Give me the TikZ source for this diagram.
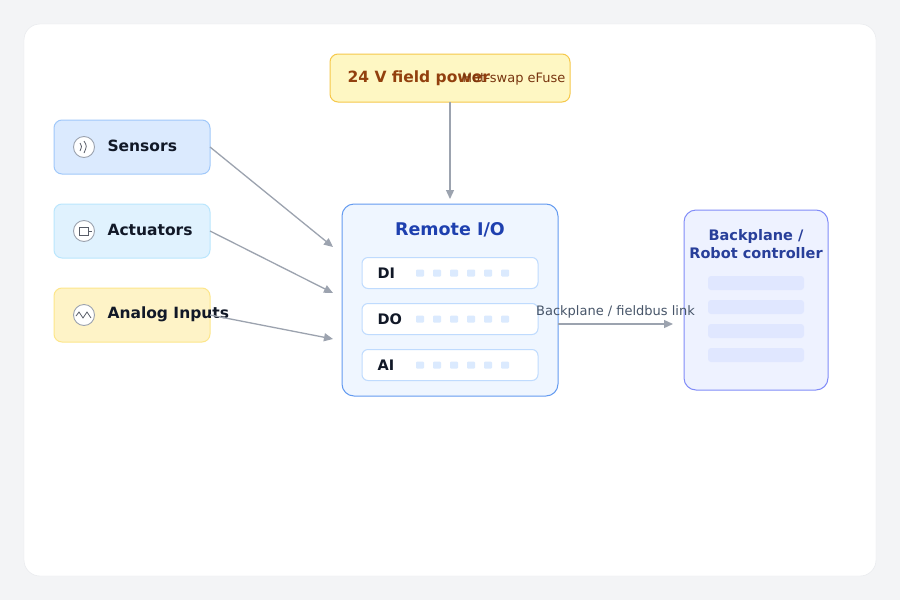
\documentclass[tikz,border=0pt]{standalone}
\usepackage{fontspec}
\setmainfont{DejaVu Sans}
\usepackage{tikz}
\usetikzlibrary{arrows.meta}
\definecolor{pagebg}{HTML}{F3F4F6}
\definecolor{cardline}{HTML}{E5E7EB}
\definecolor{wire}{HTML}{9CA3AF}
\definecolor{ink}{HTML}{111827}
\definecolor{pwrfill}{HTML}{FEF7C3}
\definecolor{pwrline}{HTML}{F6C84A}
\definecolor{pwrtext}{HTML}{92400E}
\definecolor{fusetext}{HTML}{78350F}
\definecolor{sensfill}{HTML}{DBEAFE}
\definecolor{sensline}{HTML}{A0C8FA}
\definecolor{actfill}{HTML}{E0F2FE}
\definecolor{actline}{HTML}{BAE6FD}
\definecolor{anafill}{HTML}{FEF3C7}
\definecolor{analine}{HTML}{FDE68A}
\definecolor{riofill}{HTML}{EFF6FF}
\definecolor{rioline}{HTML}{649BF0}
\definecolor{riotext}{HTML}{1E40AF}
\definecolor{rowline}{HTML}{BFDBFE}
\definecolor{ledfill}{HTML}{DBEAFE}
\definecolor{ctrlfill}{HTML}{EEF2FF}
\definecolor{ctrlline}{HTML}{818CF8}
\definecolor{ctrltext}{HTML}{283F9A}
\definecolor{ctrlbar}{HTML}{E0E7FF}
\definecolor{linktext}{HTML}{475569}
\tikzset{
  box/.style={rounded corners=8pt, line width=1pt},
  wirearrow/.style={draw=wire, line width=1.3pt, -{Triangle[length=9pt,width=8pt]}},
  srclabel/.style={anchor=west, font=\bfseries\fontsize{15.5}{18}\selectfont, text=ink},
  icon/.style={circle, draw=wire, fill=white, line width=0.9pt, minimum size=21pt, inner sep=0pt},
  row/.style={box, rounded corners=6pt, fill=white, draw=rowline},
  led/.style={fill=ledfill, rounded corners=1pt}
}
\begin{document}
\begin{tikzpicture}[x=1pt,y=-1pt]
\fill[pagebg] (0,0) rectangle (900,600);
\draw[fill=white, draw=cardline, rounded corners=16pt] (24,24) rectangle (876,576);

% power supply
\draw[box, fill=pwrfill, draw=pwrline] (330,54) rectangle (570,102);
\node[anchor=west, font=\bfseries\fontsize{15.5}{18}\selectfont, text=pwrtext] (power) at (344,78) {24 V field power};
\node[anchor=east, font=\fontsize{13}{15}\selectfont, text=fusetext] (efuse) at (569,79) {Hot-swap eFuse};
\coordinate (powerout) at (450,102);
\coordinate (rioin) at (450,199);

% field devices
\draw[box, fill=sensfill, draw=sensline] (54,120) rectangle (210,174);
\draw[box, fill=actfill, draw=actline] (54,204) rectangle (210,258);
\draw[box, fill=anafill, draw=analine] (54,288) rectangle (210,342);
\node[icon] (sensicon) at (84,147) {};
\node[icon] (acticon) at (84,231) {};
\node[icon] (anaicon) at (84,315) {};
\draw[ink!70, line width=0.8pt] (80,143) .. controls (82,146) .. (80,151);
\draw[ink!70, line width=0.8pt] (84,141) .. controls (87,146) .. (84,153);
\draw[ink!70, line width=0.9pt] (79,227) rectangle (88,235) (88,231) -- (92,231);
\draw[ink!70, line width=0.8pt] (76,316) -- (79,312) -- (83,318) -- (87,312) -- (91,318);
\node[srclabel] (sensors) at (104,146) {Sensors};
\node[srclabel] (actuators) at (104,230) {Actuators};
\node[srclabel] (analog) at (104,314) {Analog Inputs};
\coordinate (sensout) at (210,147);
\coordinate (actout) at (210,231);
\coordinate (anaout) at (210,315);
\coordinate (sensin) at (333,247);
\coordinate (actin) at (333,293);
\coordinate (anain) at (333,339);

% remote I/O
\draw[box, rounded corners=12pt, fill=riofill, draw=rioline] (342,204) rectangle (558,396);
\node[font=\bfseries\fontsize{17.5}{20}\selectfont, text=riotext] (rio) at (450,230) {Remote I/O};
\foreach \name/\y in {DI/273, DO/319, AI/365} {
  \draw[row] (362,\y-15.5) rectangle (538,\y+15.5);
  \node[anchor=west, font=\bfseries\fontsize{14.5}{16}\selectfont, text=ink] at (374,\y) {\name};
  \foreach \x in {420,437,454,471,488,505}
    \fill[led] (\x-4,\y-3.5) rectangle (\x+4,\y+3.5);
}
\coordinate (rioout) at (558,324);
\coordinate (ctrlin) at (673,324);

% controller
\draw[box, rounded corners=12pt, fill=ctrlfill, draw=ctrlline] (684,210) rectangle (828,390);
\node[align=center, font=\bfseries\fontsize{14.5}{18}\selectfont, text=ctrltext] (ctrl) at (756,244) {Backplane /\\Robot controller};
\foreach \y in {276,300,324,348}
  \fill[ctrlbar, rounded corners=3pt] (708,\y) rectangle (804,\y+14);

% connectors
\draw[wirearrow] (powerout) -- (rioin);
\draw[wirearrow] (sensout) -- (sensin);
\draw[wirearrow] (actout) -- (actin);
\draw[wirearrow] (anaout) -- (anain);
\draw[wirearrow] (rioout) -- node[above=2pt, font=\fontsize{13}{15}\selectfont, text=linktext] (linklabel) {Backplane / fieldbus link} (ctrlin);
\end{tikzpicture}
\end{document}
